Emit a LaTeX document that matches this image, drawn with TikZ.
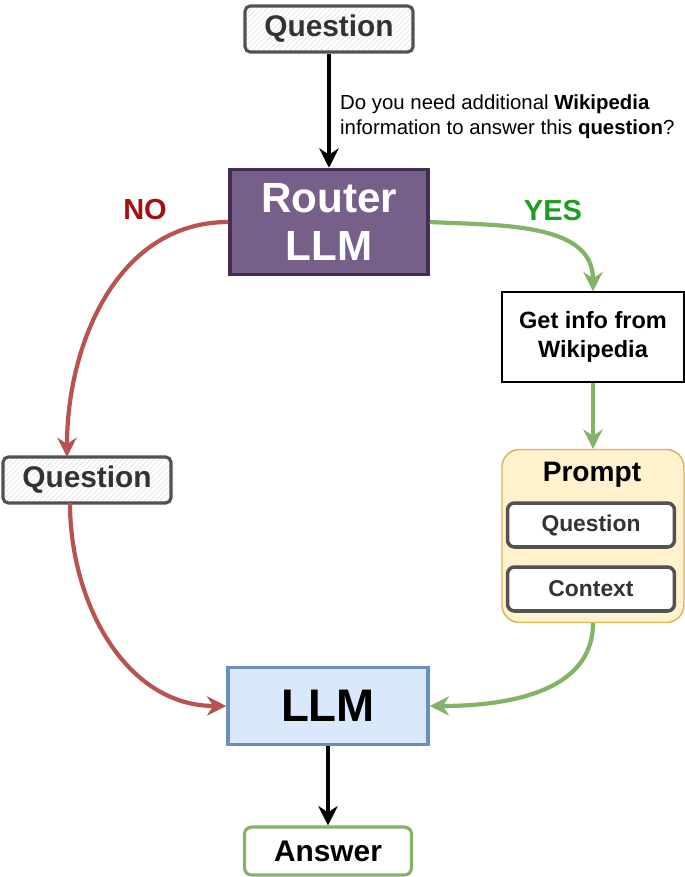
\documentclass[tikz,border=0pt]{standalone}
\usepackage{fontspec}
\setmainfont{Liberation Sans}
\usetikzlibrary{arrows.meta,patterns}
\definecolor{routerfill}{HTML}{76608A}
\definecolor{routerline}{HTML}{432D57}
\definecolor{llmfill}{HTML}{DAE8FC}
\definecolor{llmline}{HTML}{6C8EBF}
\definecolor{promptfill}{HTML}{FFF2CC}
\definecolor{promptline}{HTML}{D6B656}
\definecolor{noline}{HTML}{B85450}
\definecolor{notext}{HTML}{A50F0F}
\definecolor{yesline}{HTML}{82B366}
\definecolor{yestext}{HTML}{1E9E1E}
\definecolor{qtext}{HTML}{333333}
\begin{document}
\begin{tikzpicture}[x=0.02cm,y=-0.02cm,
	qbox/.style={draw=qtext!85,line width=1.8pt,rounded corners=3pt,preaction={fill=white},pattern=north east lines,pattern color=black!10,text=qtext,minimum width=3.36cm,minimum height=0.92cm,font=\bfseries\fontsize{17}{20}\selectfont},
	inbox/.style={draw=qtext!85,fill=white,line width=2pt,rounded corners=4pt,text=qtext,minimum width=3.34cm,minimum height=0.88cm,font=\bfseries\fontsize{13}{16}\selectfont},
	arr/.style={line width=2.4pt,-{Stealth[length=11pt,width=11pt]}}]
	\useasboundingbox (0,0) rectangle (685,877);
	% boxes
	\node[qbox] (q1) at (329,29) {Question};
	\node[draw=routerline,fill=routerfill,line width=2pt,minimum width=3.96cm,minimum height=2.1cm,text=white,align=center,font=\bfseries\fontsize{24}{27}\selectfont] (rt) at (329,222) {Router\\LLM};
	\node[qbox] (q2) at (87,480) {Question};
	\node[draw,fill=white,line width=0.8pt,minimum width=3.64cm,minimum height=1.8cm,align=center,font=\bfseries\fontsize{13.4}{16.5}\selectfont] (gi) at (593,337) {Get info from\\Wikipedia};
	\node[draw=promptline,fill=promptfill,line width=0.8pt,rounded corners=10pt,minimum width=3.64cm,minimum height=3.46cm] (pr) at (593,536) {};
	\node[font=\bfseries\fontsize{16}{19}\selectfont] (pt) at (592,475) {Prompt};
	\node[inbox] (pq) at (591,525) {Question};
	\node[inbox] (pc) at (591,589) {Context};
	\node[draw=llmline,fill=llmfill,line width=2pt,minimum width=4cm,minimum height=1.54cm,font=\bfseries\fontsize{26}{30}\selectfont] (llm) at (328,706) {LLM};
	\node[draw=yesline,fill=white,line width=1.8pt,rounded corners=4pt,minimum width=3.34cm,minimum height=0.96cm,font=\bfseries\fontsize{17}{20}\selectfont] (ans) at (328,851) {Answer};
	% labels
	\node[anchor=west,align=left,font=\fontsize{11.6}{14}\selectfont] (ask) at (334,117) {Do you need additional \textbf{Wikipedia}\\information to answer this \textbf{question}?};
	\node[text=notext,font=\bfseries\fontsize{16.5}{20}\selectfont] (no) at (145,210) {NO};
	\node[text=yestext,font=\bfseries\fontsize{16.5}{20}\selectfont] (yes) at (553,211) {YES};
	% arrows
	\coordinate (noend) at (67,457);
	\coordinate (nostart) at (70,503);
	\draw[arr] (q1) -- (rt);
	\draw[arr,noline] (rt.west) to[out=180,in=90] (noend);
	\draw[arr,noline] (nostart) to[out=-90,in=180] (llm.west);
	\draw[arr,yesline] (rt.east) to[out=-3,in=90] (gi.north);
	\draw[arr,yesline] (gi) -- (pr);
	\draw[arr,yesline] (pr.south) to[out=-90,in=0] (llm.east);
	\draw[arr] (llm) -- (ans);
\end{tikzpicture}
\end{document}
